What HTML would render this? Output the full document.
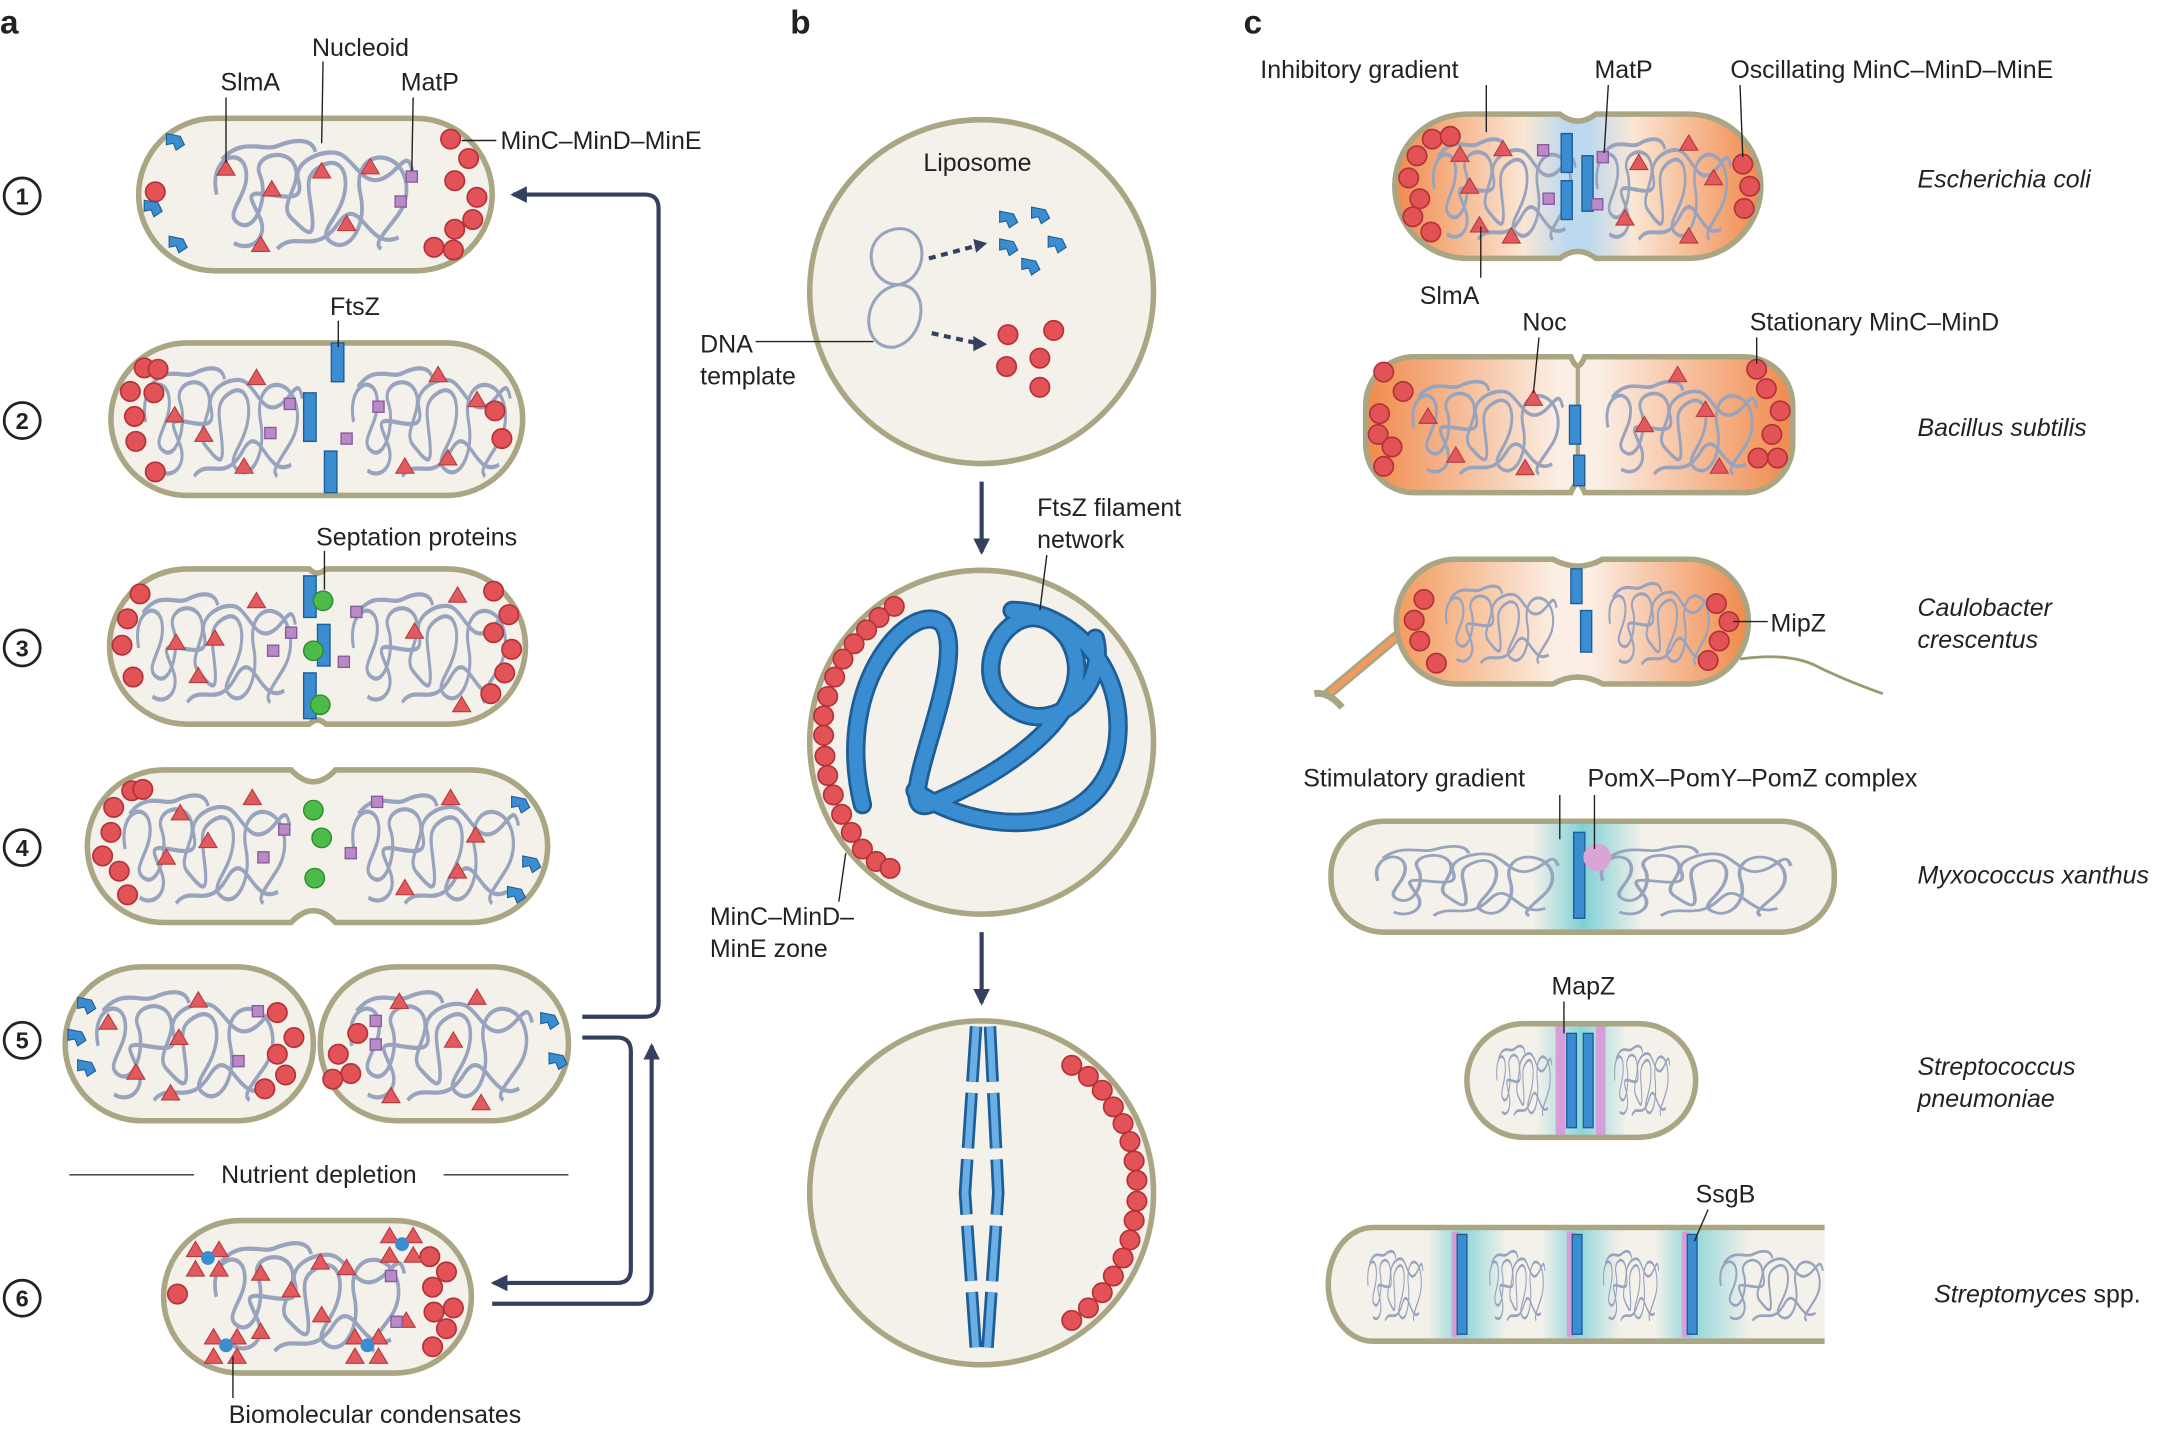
<!DOCTYPE html>
<html><head><meta charset="utf-8"><style>
html,body{margin:0;padding:0;background:#fff}
svg{display:block}
text{font-family:"Liberation Sans",sans-serif;font-size:18px;fill:#222}
.b{font-weight:bold;font-size:24px}
.i{font-style:italic}
.n{font-weight:bold;font-size:17px}
.cell{fill:#f4f1ea;stroke:#aaa583;stroke-width:4}
.chr{fill:none;stroke:#98a4be;stroke-width:2.2}
.ln{stroke:#222;stroke-width:1;fill:none}
.arr{stroke:#34405e;stroke-width:3;fill:none}
.fz{fill:#3a8dd0;stroke:#1e5e96;stroke-width:1}
</style></head><body>
<svg width="2174" height="1429" viewBox="0 0 1568 1030" xmlns="http://www.w3.org/2000/svg">
<defs>
<path id="c" class="chr" d="M5,30 C0,10 20,5 22,18 S8,40 18,45 S35,30 30,20 S45,5 50,15 S40,35 48,42 S62,55 60,40 S55,20 66,15 S82,20 78,32 S62,50 72,55 S92,45 88,30 S95,8 105,12 S118,30 110,40 S95,55 100,58 M15,55 C25,60 35,52 30,42 S20,28 35,30 S55,32 52,22 S70,5 78,10 S90,25 100,22 S115,5 118,18 M8,12 C20,0 32,8 40,5 S60,0 62,8 M40,58 C50,48 62,62 75,45 S92,60 110,52"/>
<g id="d"><circle r="7" fill="#e25257" stroke="#b33237" stroke-width="1.2"/></g>
<g id="t"><polygon points="0,-6 6.5,5 -6.5,5" fill="#e25a5e" stroke="#b33a3e" stroke-width="0.8"/></g>
<g id="s"><rect x="-4" y="-4" width="8" height="8" fill="#b98ac6" stroke="#8a5aa0"/></g>
<g id="v"><polygon points="-6,-6 4,-4 7,2 1,6 -1,1 -6,2" fill="#3a8dd0" stroke="#1e5e96" stroke-width="0.8"/></g>
<g id="g"><circle r="7" fill="#4dbb4a" stroke="#2d8a2e" stroke-width="1"/></g>
<linearGradient id="eco" x1="0" x2="1"><stop offset="0" stop-color="#f08a4b"/><stop offset="0.35" stop-color="#fbe6d4"/><stop offset="0.47" stop-color="#bcd9f0"/><stop offset="0.53" stop-color="#bcd9f0"/><stop offset="0.65" stop-color="#fbe6d4"/><stop offset="1" stop-color="#f08a4b"/></linearGradient>
<linearGradient id="bsu" x1="0" x2="1"><stop offset="0" stop-color="#f08a4b"/><stop offset="0.45" stop-color="#fbeee4"/><stop offset="0.55" stop-color="#fbeee4"/><stop offset="1" stop-color="#f08a4b"/></linearGradient>
<linearGradient id="cau" x1="0" x2="1"><stop offset="0" stop-color="#f39a5c"/><stop offset="0.45" stop-color="#fbeee4"/><stop offset="0.55" stop-color="#fbeee4"/><stop offset="1" stop-color="#f08a4b"/></linearGradient>
<linearGradient id="myx" x1="0" x2="1"><stop offset="0" stop-color="#f4f1ea"/><stop offset="0.4" stop-color="#f4f1ea"/><stop offset="0.5" stop-color="#7fd1d6"/><stop offset="0.62" stop-color="#f4f1ea"/><stop offset="1" stop-color="#f4f1ea"/></linearGradient>
<linearGradient id="spn" x1="0" x2="1"><stop offset="0" stop-color="#f4f1ea"/><stop offset="0.3" stop-color="#f4f1ea"/><stop offset="0.5" stop-color="#8dd6da"/><stop offset="0.7" stop-color="#f4f1ea"/><stop offset="1" stop-color="#f4f1ea"/></linearGradient>
<linearGradient id="sty" gradientUnits="userSpaceOnUse" x1="958" x2="1316" y1="0" y2="0"><stop offset="0" stop-color="#f4f1ea"/><stop offset="0.2" stop-color="#f4f1ea"/><stop offset="0.27" stop-color="#8dd6da"/><stop offset="0.36" stop-color="#f4f1ea"/><stop offset="0.43" stop-color="#f4f1ea"/><stop offset="0.5" stop-color="#8dd6da"/><stop offset="0.59" stop-color="#f4f1ea"/><stop offset="0.66" stop-color="#f4f1ea"/><stop offset="0.73" stop-color="#8dd6da"/><stop offset="0.85" stop-color="#f4f1ea"/><stop offset="1" stop-color="#f4f1ea"/></linearGradient>
<marker id="ah" markerUnits="userSpaceOnUse" markerWidth="14" markerHeight="14" refX="10" refY="7" orient="auto"><path d="M0,1 L12,7 L0,13 z" fill="#34405e"/></marker>
</defs>

<text x="0" y="24" class="b">a</text>
<text x="570" y="24" class="b">b</text>
<text x="897" y="24" class="b">c</text>

<g>
<circle cx="16" cy="141" r="13" fill="#fff" stroke="#222" stroke-width="2"/><text x="16" y="147" class="n" text-anchor="middle">1</text>
<circle cx="16" cy="303" r="13" fill="#fff" stroke="#222" stroke-width="2"/><text x="16" y="309" class="n" text-anchor="middle">2</text>
<circle cx="16" cy="467" r="13" fill="#fff" stroke="#222" stroke-width="2"/><text x="16" y="473" class="n" text-anchor="middle">3</text>
<circle cx="16" cy="611" r="13" fill="#fff" stroke="#222" stroke-width="2"/><text x="16" y="617" class="n" text-anchor="middle">4</text>
<circle cx="16" cy="750" r="13" fill="#fff" stroke="#222" stroke-width="2"/><text x="16" y="756" class="n" text-anchor="middle">5</text>
<circle cx="16" cy="936" r="13" fill="#fff" stroke="#222" stroke-width="2"/><text x="16" y="942" class="n" text-anchor="middle">6</text>
</g>

<!-- cell 1 -->
<rect class="cell" x="100" y="85" width="255" height="110" rx="55"/>
<use href="#c" transform="translate(150,98) scale(1.25,1.4)"/>
<use href="#d" x="325" y="100"/><use href="#d" x="338" y="114"/><use href="#d" x="328" y="130"/><use href="#d" x="344" y="142"/><use href="#d" x="341" y="158"/><use href="#d" x="328" y="165"/><use href="#d" x="327" y="180"/><use href="#d" x="313" y="178"/><use href="#d" x="112" y="138"/>
<use href="#t" x="163" y="121"/><use href="#t" x="196" y="136"/><use href="#t" x="232" y="123"/><use href="#t" x="188" y="176"/><use href="#t" x="250" y="161"/><use href="#t" x="267" y="120"/>
<use href="#s" x="297" y="127"/><use href="#s" x="289" y="145"/>
<use href="#v" x="126" y="102"/><use href="#v" x="110" y="150"/><use href="#v" x="128" y="176"/>
<text x="225" y="40">Nucleoid</text><path class="ln" d="M233,44 L232,103"/>
<text x="159" y="65">SlmA</text><path class="ln" d="M163,70 L163,117"/>
<text x="289" y="65">MatP</text><path class="ln" d="M298,70 L297,123"/>
<text x="361" y="107">MinC–MinD–MinE</text><path class="ln" d="M333,101 L358,101"/>

<!-- cell 2 -->
<rect class="cell" x="80" y="247" width="297" height="110" rx="55"/>
<use href="#c" transform="translate(100,262) scale(1,1.4)"/>
<use href="#c" transform="translate(250,262) scale(1,1.4)"/>
<rect class="fz" x="239" y="247" width="9" height="28"/><rect class="fz" x="219" y="283" width="9" height="35"/><rect class="fz" x="234" y="325" width="9" height="30"/>
<use href="#d" x="104" y="265"/><use href="#d" x="114" y="266"/><use href="#d" x="94" y="282"/><use href="#d" x="111" y="283"/><use href="#d" x="97" y="300"/><use href="#d" x="98" y="318"/><use href="#d" x="112" y="340"/><use href="#d" x="357" y="296"/><use href="#d" x="362" y="316"/>
<use href="#t" x="126" y="299"/><use href="#t" x="147" y="313"/><use href="#t" x="185" y="272"/><use href="#t" x="176" y="336"/><use href="#t" x="316" y="270"/><use href="#t" x="344" y="288"/><use href="#t" x="292" y="336"/><use href="#t" x="323" y="330"/>
<use href="#s" x="209" y="291"/><use href="#s" x="195" y="312"/><use href="#s" x="273" y="293"/><use href="#s" x="250" y="316"/>
<text x="238" y="227">FtsZ</text><path class="ln" d="M244,231 L244,250"/>

<!-- cell 3 -->
<path class="cell" d="M135,410 L223,410 Q229,416 235,410 L323,410 A56,56 0 0 1 323,522 L235,522 Q229,516 223,522 L135,522 A56,56 0 0 1 135,410 Z"/>
<use href="#c" transform="translate(95,425) scale(1,1.4)"/>
<use href="#c" transform="translate(250,425) scale(1,1.4)"/>
<rect class="fz" x="219" y="415" width="9" height="30"/><rect class="fz" x="229" y="450" width="9" height="30"/><rect class="fz" x="219" y="485" width="9" height="33"/>
<use href="#g" x="233" y="433"/><use href="#g" x="226" y="469"/><use href="#g" x="231" y="508"/>
<use href="#d" x="101" y="428"/><use href="#d" x="92" y="446"/><use href="#d" x="88" y="465"/><use href="#d" x="96" y="488"/><use href="#d" x="356" y="426"/><use href="#d" x="367" y="443"/><use href="#d" x="356" y="456"/><use href="#d" x="369" y="468"/><use href="#d" x="364" y="485"/><use href="#d" x="354" y="500"/>
<use href="#t" x="127" y="463"/><use href="#t" x="155" y="460"/><use href="#t" x="185" y="433"/><use href="#t" x="143" y="487"/><use href="#t" x="330" y="429"/><use href="#t" x="299" y="455"/><use href="#t" x="333" y="508"/>
<use href="#s" x="210" y="456"/><use href="#s" x="197" y="469"/><use href="#s" x="257" y="441"/><use href="#s" x="248" y="477"/>
<text x="228" y="393">Septation proteins</text><path class="ln" d="M234,397 L234,425"/>

<!-- cell 4 -->
<path class="cell" d="M118,555 L210,555 Q226,572 242,555 L340,555 A55,55 0 0 1 340,665 L242,665 Q226,648 210,665 L118,665 A55,55 0 0 1 118,555 Z"/>
<use href="#c" transform="translate(85,570) scale(1.05,1.4)"/>
<use href="#c" transform="translate(250,570) scale(1.05,1.4)"/>
<use href="#g" x="226" y="584"/><use href="#g" x="232" y="604"/><use href="#g" x="227" y="633"/>
<use href="#d" x="95" y="570"/><use href="#d" x="82" y="582"/><use href="#d" x="80" y="600"/><use href="#d" x="74" y="617"/><use href="#d" x="86" y="628"/><use href="#d" x="92" y="645"/><use href="#d" x="103" y="569"/>
<use href="#t" x="130" y="586"/><use href="#t" x="150" y="606"/><use href="#t" x="182" y="575"/><use href="#t" x="120" y="618"/><use href="#t" x="325" y="575"/><use href="#t" x="343" y="602"/><use href="#t" x="330" y="628"/><use href="#t" x="292" y="640"/>
<use href="#s" x="205" y="598"/><use href="#s" x="190" y="618"/><use href="#s" x="272" y="578"/><use href="#s" x="253" y="615"/>
<use href="#v" x="375" y="580"/><use href="#v" x="383" y="623"/><use href="#v" x="372" y="645"/>

<!-- cell 5 -->
<rect class="cell" x="47" y="697" width="179" height="111" rx="55"/>
<rect class="cell" x="231" y="697" width="179" height="111" rx="55"/>
<use href="#c" transform="translate(65,712) scale(1.15,1.4)"/>
<use href="#c" transform="translate(248,712) scale(1.15,1.4)"/>
<use href="#d" x="200" y="730"/><use href="#d" x="212" y="748"/><use href="#d" x="200" y="760"/><use href="#d" x="206" y="775"/><use href="#d" x="191" y="785"/><use href="#d" x="258" y="745"/><use href="#d" x="244" y="760"/><use href="#d" x="253" y="774"/><use href="#d" x="240" y="778"/>
<use href="#t" x="78" y="737"/><use href="#t" x="143" y="721"/><use href="#t" x="129" y="748"/><use href="#t" x="98" y="773"/><use href="#t" x="123" y="788"/><use href="#t" x="288" y="722"/><use href="#t" x="344" y="719"/><use href="#t" x="327" y="750"/><use href="#t" x="282" y="790"/><use href="#t" x="347" y="795"/>
<use href="#s" x="186" y="729"/><use href="#s" x="172" y="765"/><use href="#s" x="271" y="736"/><use href="#s" x="271" y="753"/>
<use href="#v" x="62" y="725"/><use href="#v" x="55" y="748"/><use href="#v" x="62" y="770"/><use href="#v" x="396" y="736"/><use href="#v" x="402" y="765"/>

<path d="M50,847 L140,847 M320,847 L410,847" stroke="#333" stroke-width="1"/>
<text x="230" y="853" text-anchor="middle">Nutrient depletion</text>

<!-- cell 6 -->
<rect class="cell" x="118" y="880" width="222" height="110" rx="55"/>
<use href="#c" transform="translate(150,893) scale(1.2,1.4)"/>
<use href="#d" x="310" y="906"/><use href="#d" x="322" y="917"/><use href="#d" x="312" y="928"/><use href="#d" x="327" y="943"/><use href="#d" x="313" y="946"/><use href="#d" x="322" y="958"/><use href="#d" x="312" y="971"/><use href="#d" x="128" y="933"/>
<use href="#t" x="188" y="918"/><use href="#t" x="210" y="930"/><use href="#t" x="250" y="914"/><use href="#t" x="232" y="948"/><use href="#t" x="188" y="960"/><use href="#t" x="293" y="952"/><use href="#t" x="231" y="910"/>
<use href="#s" x="282" y="920"/><use href="#s" x="286" y="953"/>
<g transform="translate(150,907)"><use href="#t" x="-9" y="-6"/><use href="#t" x="8" y="-6"/><use href="#t" x="-9" y="8"/><use href="#t" x="8" y="8"/><circle r="5" fill="#3a8dd0"/></g>
<g transform="translate(290,897)"><use href="#t" x="-9" y="-6"/><use href="#t" x="8" y="-6"/><use href="#t" x="-9" y="8"/><use href="#t" x="8" y="8"/><circle r="5" fill="#3a8dd0"/></g>
<g transform="translate(163,970)"><use href="#t" x="-9" y="-6"/><use href="#t" x="8" y="-6"/><use href="#t" x="-9" y="8"/><use href="#t" x="8" y="8"/><circle r="5" fill="#3a8dd0"/></g>
<g transform="translate(265,970)"><use href="#t" x="-9" y="-6"/><use href="#t" x="8" y="-6"/><use href="#t" x="-9" y="8"/><use href="#t" x="8" y="8"/><circle r="5" fill="#3a8dd0"/></g>
<path class="ln" d="M168,978 L168,1008"/>
<text x="165" y="1026">Biomolecular condensates</text>

<!-- arrows -->
<path class="arr" marker-end="url(#ah)" d="M420,733 L465,733 Q475,733 475,723 L475,150 Q475,140 465,140 L370,140"/>
<path class="arr" marker-end="url(#ah)" d="M420,748 L445,748 Q455,748 455,758 L455,915 Q455,925 445,925 L356,925"/>
<path class="arr" marker-end="url(#ah)" d="M355,940 L460,940 Q470,940 470,930 L470,754"/>

<!-- panel b -->
<circle class="cell" cx="708" cy="210" r="124"/>
<text x="705" y="123" text-anchor="middle">Liposome</text>
<path class="chr" d="M645,165 C620,170 625,205 648,205 C672,205 668,245 645,250 C620,252 620,210 648,205 C672,200 670,160 645,165 Z"/>
<path d="M670,186 L704,177 M672,240 L704,247" stroke="#34405e" stroke-width="3" stroke-dasharray="5,4" fill="none"/>
<path d="M702,172 L712,175 L704,182 Z M702,242 L712,248 L702,253 Z" fill="#34405e"/>
<use href="#v" x="727" y="158"/><use href="#v" x="750" y="155"/><use href="#v" x="727" y="178"/><use href="#v" x="743" y="192"/><use href="#v" x="762" y="176"/>
<use href="#d" x="727" y="241"/><use href="#d" x="760" y="238"/><use href="#d" x="726" y="264"/><use href="#d" x="750" y="258"/><use href="#d" x="750" y="279"/>
<text x="505" y="254">DNA</text><text x="505" y="277">template</text><path class="ln" d="M545,246 L630,246"/>
<path class="arr" marker-end="url(#ah)" d="M708,347 L708,398"/>

<circle class="cell" cx="708" cy="535" r="124"/>
<g fill="none" stroke="#1e5e96" stroke-width="14" stroke-linecap="round">
<path d="M622,580 C600,490 660,430 680,450 C700,480 640,590 670,580 C720,560 800,510 770,460 C740,420 700,470 720,500 C750,540 800,500 790,460"/>
<path d="M660,570 C700,600 790,610 805,540 C815,480 770,440 730,440"/>
</g>
<g fill="none" stroke="#3a8dd0" stroke-width="10" stroke-linecap="round" stroke-dasharray="6,2">
<path d="M622,580 C600,490 660,430 680,450 C700,480 640,590 670,580 C720,560 800,510 770,460 C740,420 700,470 720,500 C750,540 800,500 790,460"/>
<path d="M660,570 C700,600 790,610 805,540 C815,480 770,440 730,440"/>
</g>
<g>
<use href="#d" x="645" y="437"/><use href="#d" x="634" y="445"/><use href="#d" x="625" y="454"/><use href="#d" x="616" y="464"/><use href="#d" x="608" y="475"/><use href="#d" x="602" y="488"/><use href="#d" x="597" y="502"/><use href="#d" x="594" y="516"/><use href="#d" x="594" y="530"/><use href="#d" x="595" y="545"/><use href="#d" x="597" y="559"/><use href="#d" x="601" y="573"/><use href="#d" x="607" y="587"/><use href="#d" x="614" y="600"/><use href="#d" x="622" y="612"/><use href="#d" x="632" y="621"/><use href="#d" x="642" y="626"/>
</g>
<text x="748" y="372">FtsZ filament</text><text x="748" y="395">network</text><path class="ln" d="M755,400 L750,440"/>
<text x="512" y="667">MinC–MinD–</text><text x="512" y="690">MinE zone</text><path class="ln" d="M605,650 L610,615"/>
<path class="arr" marker-end="url(#ah)" d="M708,672 L708,723"/>

<circle class="cell" cx="708" cy="860" r="124"/>
<path d="M704,740 L696,860 L704,975 M714,740 L720,860 L712,975" stroke="#1e5e96" stroke-width="9" fill="none" stroke-dasharray="40,8"/>
<path d="M704,740 L696,860 L704,975 M714,740 L720,860 L712,975" stroke="#6aaee6" stroke-width="5" fill="none" stroke-dasharray="40,8"/>
<use href="#d" x="773" y="768"/><use href="#d" x="785" y="776"/><use href="#d" x="795" y="786"/><use href="#d" x="803" y="798"/><use href="#d" x="810" y="810"/><use href="#d" x="815" y="823"/><use href="#d" x="818" y="837"/><use href="#d" x="820" y="851"/><use href="#d" x="820" y="866"/><use href="#d" x="818" y="880"/><use href="#d" x="815" y="894"/><use href="#d" x="810" y="907"/><use href="#d" x="803" y="920"/><use href="#d" x="795" y="932"/><use href="#d" x="785" y="943"/><use href="#d" x="773" y="952"/>

<!-- panel c : E. coli -->
<path d="M1058,82 L1125,82 Q1138,92 1151,82 L1218,82 A52,52 0 0 1 1218,186 L1151,186 Q1138,176 1125,186 L1058,186 A52,52 0 0 1 1058,82 Z" fill="url(#eco)" stroke="#aaa583" stroke-width="4"/>
<use href="#c" transform="translate(1030,97) scale(0.9,1.3)"/>
<use href="#c" transform="translate(1148,97) scale(0.85,1.3)"/>
<rect class="fz" x="1126" y="96" width="8" height="28"/><rect class="fz" x="1126" y="130" width="8" height="28"/><rect class="fz" x="1141" y="112" width="8" height="40"/>
<use href="#d" x="1033" y="100"/><use href="#d" x="1046" y="98"/><use href="#d" x="1022" y="112"/><use href="#d" x="1016" y="128"/><use href="#d" x="1024" y="143"/><use href="#d" x="1019" y="156"/><use href="#d" x="1032" y="167"/><use href="#d" x="1257" y="118"/><use href="#d" x="1262" y="134"/><use href="#d" x="1258" y="150"/>
<use href="#t" x="1053" y="111"/><use href="#t" x="1084" y="107"/><use href="#t" x="1060" y="134"/><use href="#t" x="1067" y="162"/><use href="#t" x="1090" y="170"/><use href="#t" x="1182" y="117"/><use href="#t" x="1218" y="103"/><use href="#t" x="1236" y="128"/><use href="#t" x="1218" y="170"/><use href="#t" x="1172" y="157"/>
<use href="#s" x="1113" y="108"/><use href="#s" x="1117" y="143"/><use href="#s" x="1156" y="113"/><use href="#s" x="1152" y="147"/>
<text x="909" y="56">Inhibitory gradient</text><path class="ln" d="M1072,61 L1072,95"/>
<text x="1150" y="56">MatP</text><path class="ln" d="M1160,61 L1157,110"/>
<text x="1248" y="56">Oscillating MinC–MinD–MinE</text><path class="ln" d="M1255,61 L1257,113"/>
<text x="1024" y="219">SlmA</text><path class="ln" d="M1068,200 L1068,163"/>
<text x="1383" y="135" class="i">Escherichia coli</text>

<!-- B. subtilis -->
<path d="M1020,257 L1133,257 Q1138,270 1143,257 L1258,257 A35,35 0 0 1 1293,292 L1293,320 A35,35 0 0 1 1258,355 L1143,355 Q1138,342 1133,355 L1020,355 A35,35 0 0 1 985,320 L985,292 A35,35 0 0 1 1020,257 Z" fill="url(#bsu)" stroke="#aaa583" stroke-width="4"/>
<path d="M1138,262 L1138,350" stroke="#aaa583" stroke-width="3"/>
<use href="#c" transform="translate(1015,272) scale(0.95,1.2)"/>
<use href="#c" transform="translate(1155,272) scale(0.95,1.2)"/>
<rect class="fz" x="1132" y="292" width="8" height="28"/><rect class="fz" x="1135" y="328" width="8" height="22"/>
<use href="#d" x="998" y="268"/><use href="#d" x="1012" y="282"/><use href="#d" x="995" y="298"/><use href="#d" x="994" y="313"/><use href="#d" x="1004" y="322"/><use href="#d" x="998" y="336"/><use href="#d" x="1267" y="266"/><use href="#d" x="1274" y="280"/><use href="#d" x="1284" y="296"/><use href="#d" x="1278" y="313"/><use href="#d" x="1268" y="330"/><use href="#d" x="1282" y="330"/>
<use href="#t" x="1030" y="300"/><use href="#t" x="1106" y="287"/><use href="#t" x="1050" y="328"/><use href="#t" x="1100" y="337"/><use href="#t" x="1210" y="270"/><use href="#t" x="1230" y="295"/><use href="#t" x="1186" y="306"/><use href="#t" x="1240" y="336"/>
<text x="1098" y="238">Noc</text><path class="ln" d="M1110,243 L1106,283"/>
<text x="1262" y="238">Stationary MinC–MinD</text><path class="ln" d="M1267,243 L1267,262"/>
<text x="1383" y="314" class="i">Bacillus subtilis</text>

<!-- Caulobacter -->
<path d="M1020,448 L958,500" stroke="#aaa583" stroke-width="8" stroke-linecap="round" fill="none"/>
<path d="M1020,448 L958,500" stroke="#f39a5c" stroke-width="4" stroke-linecap="round" fill="none"/>
<path d="M948,500 Q958,498 968,510" stroke="#aaa583" stroke-width="5" fill="none"/>
<path d="M1050,403 L1120,403 Q1138,413 1156,403 L1218,403 A43,45 0 0 1 1218,493 L1156,493 Q1138,483 1120,493 L1050,493 A43,45 0 0 1 1050,403 Z" fill="url(#cau)" stroke="#aaa583" stroke-width="4"/>
<path d="M1255,475 Q1290,470 1310,480 T1358,500" fill="none" stroke="#9b9870" stroke-width="2"/>
<use href="#c" transform="translate(1040,420) scale(0.7,1)"/>
<use href="#c" transform="translate(1158,418) scale(0.65,1.05)"/>
<rect class="fz" x="1133" y="410" width="8" height="25"/><rect class="fz" x="1140" y="440" width="8" height="30"/>
<use href="#d" x="1027" y="432"/><use href="#d" x="1020" y="447"/><use href="#d" x="1024" y="462"/><use href="#d" x="1036" y="478"/><use href="#d" x="1238" y="435"/><use href="#d" x="1247" y="448"/><use href="#d" x="1240" y="462"/><use href="#d" x="1232" y="476"/>
<text x="1277" y="455">MipZ</text><path class="ln" d="M1250,448 L1275,448"/>
<text x="1383" y="444" class="i">Caulobacter</text><text x="1383" y="467" class="i">crescentus</text>

<!-- Myxococcus -->
<rect x="960" y="592" width="363" height="80" rx="38" fill="url(#myx)" stroke="#aaa583" stroke-width="4"/>
<use href="#c" transform="translate(988,608) scale(1.15,0.9)"/>
<use href="#c" transform="translate(1150,608) scale(1.2,0.9)"/>
<rect class="fz" x="1135" y="600" width="8" height="62"/>
<circle cx="1152" cy="618" r="10" fill="#d8a6d6"/>
<text x="940" y="567">Stimulatory gradient</text><path class="ln" d="M1125,573 L1125,605"/>
<text x="1145" y="567">PomX–PomY–PomZ complex</text><path class="ln" d="M1150,573 L1150,612"/>
<text x="1383" y="637" class="i">Myxococcus xanthus</text>

<!-- Streptococcus -->
<rect x="1058" y="738" width="165" height="82" rx="41" fill="url(#spn)" stroke="#aaa583" stroke-width="4"/>
<use href="#c" transform="translate(1078,752) scale(0.35,0.9)"/>
<use href="#c" transform="translate(1163,752) scale(0.35,0.9)"/>
<rect x="1122" y="740" width="7" height="78" fill="#d49ed8"/><rect x="1151" y="740" width="7" height="78" fill="#d49ed8"/>
<rect class="fz" x="1130" y="745" width="7" height="68"/><rect class="fz" x="1142" y="745" width="7" height="68"/>
<text x="1119" y="717">MapZ</text><path class="ln" d="M1128,722 L1128,745"/>
<text x="1383" y="775" class="i">Streptococcus</text><text x="1383" y="798" class="i">pneumoniae</text>

<!-- Streptomyces -->
<path d="M1316,885 L990,885 A32,41 0 0 0 990,967 L1316,967" fill="url(#sty)" stroke="#aaa583" stroke-width="4"/>
<use href="#c" transform="translate(985,900) scale(0.35,0.9)"/>
<use href="#c" transform="translate(1073,900) scale(0.35,0.9)"/>
<use href="#c" transform="translate(1155,900) scale(0.35,0.9)"/>
<use href="#c" transform="translate(1238,900) scale(0.65,0.9)"/>
<rect x="1047" y="888" width="6" height="76" fill="#d49ed8"/><rect class="fz" x="1051" y="890" width="7" height="72"/>
<rect x="1130" y="888" width="6" height="76" fill="#d49ed8"/><rect class="fz" x="1134" y="890" width="7" height="72"/>
<rect x="1213" y="888" width="6" height="76" fill="#d49ed8"/><rect class="fz" x="1217" y="890" width="7" height="72"/>
<text x="1223" y="867">SsgB</text><path class="ln" d="M1232,872 L1222,895"/>
<text x="1395" y="939"><tspan class="i">Streptomyces</tspan> spp.</text>
</svg>
</body></html>
